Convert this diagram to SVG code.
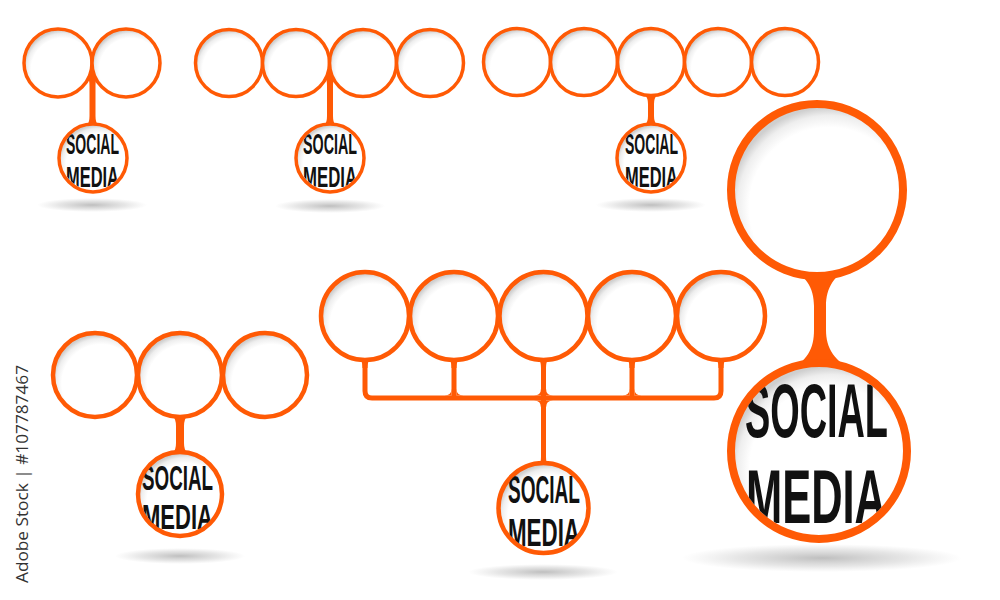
<svg xmlns="http://www.w3.org/2000/svg" width="1000" height="600" viewBox="0 0 1000 600">
<defs>
<radialGradient id="inner" cx="0.57" cy="0.6" r="0.58">
<stop offset="0" stop-color="#fff"/><stop offset="0.8" stop-color="#fff"/><stop offset="0.92" stop-color="#eeeeee"/><stop offset="1" stop-color="#cfcfcf"/>
</radialGradient>
<radialGradient id="shadow">
<stop offset="0" stop-color="#8a8a8a" stop-opacity="0.55"/><stop offset="0.6" stop-color="#9a9a9a" stop-opacity="0.25"/><stop offset="1" stop-color="#aaa" stop-opacity="0"/>
</radialGradient>
<clipPath id="c1"><circle cx="93" cy="158" r="32"/></clipPath>
<clipPath id="c2"><circle cx="330" cy="158" r="32"/></clipPath>
<clipPath id="c3"><circle cx="651" cy="158" r="32"/></clipPath>
<clipPath id="c4"><circle cx="180" cy="494" r="40"/></clipPath>
<clipPath id="c5"><circle cx="543.5" cy="508" r="43"/></clipPath>
<clipPath id="c6"><circle cx="819" cy="451" r="84"/></clipPath>
</defs>
<style>
.ring{fill:url(#inner);stroke:#ff5a05}
.s{stroke-width:3.5}
.m{stroke-width:4.5}
.l{stroke-width:8}
.conn{fill:#ff5a05}
.bar{fill:none;stroke:#ff5a05;stroke-width:5;stroke-linejoin:round}
.sm{font-family:"Liberation Sans","DejaVu Sans Condensed",sans-serif;font-weight:bold;fill:#111}
.sh{fill:url(#shadow)}
.wm{font-family:"Open Sans","DejaVu Sans",sans-serif;fill:#333}
</style>
<rect width="1000" height="600" fill="#fff"/>
<g id="shadows">
<ellipse class="sh" cx="92" cy="205" rx="55" ry="7"/>
<ellipse class="sh" cx="330" cy="206" rx="55" ry="7"/>
<ellipse class="sh" cx="651" cy="205" rx="55" ry="7"/>
<ellipse class="sh" cx="180" cy="556" rx="65" ry="8"/>
<ellipse class="sh" cx="543" cy="572" rx="75" ry="8"/>
<ellipse class="sh" cx="822" cy="558" rx="140" ry="14"/>
</g>
<g id="connectors">
<path class="conn" d="M80.5,72 Q89.5,72 89.5,86 L89.5,116 Q89.5,128 80.5,128 L104.5,128 Q95.5,128 95.5,116 L95.5,86 Q95.5,72 104.5,72 Z"/>
<path class="conn" d="M318,72 Q327,72 327,86 L327,116 Q327,128 318,128 L342,128 Q333,128 333,116 L333,86 Q333,72 342,72 Z"/>
<path class="conn" d="M636,92 Q648,92 648,104 L648,116 Q648,128 636,128 L666,128 Q654,128 654,116 L654,104 Q654,92 666,92 Z"/>
<path class="conn" d="M164,413 Q176,413 176,426 L176,443 Q176,456 164,456 L196,456 Q184,456 184,443 L184,426 Q184,413 196,413 Z"/>
<path class="bar" d="M365,360 V391 Q365,398 372,398 H714 Q721,398 721,391 V360"/>
<path class="bar" d="M454,360 V398 M543.5,360 V466 M632,360 V398"/>
<path class="conn" d="M353.5,356 Q362.5,356 362.5,368 L367.5,368 Q367.5,356 376.5,356 Z M442.5,356 Q451.5,356 451.5,368 L456.5,368 Q456.5,356 465.5,356 Z M532,356 Q541,356 541,368 L546,368 Q546,356 555,356 Z M620.5,356 Q629.5,356 629.5,368 L634.5,368 Q634.5,356 643.5,356 Z M709.5,356 Q718.5,356 718.5,368 L723.5,368 Q723.5,356 732.5,356 Z"/>
<path class="conn" d="M451.5,395.5 L444.5,395.5 Q451.5,395.5 451.5,388.5 Z M456.5,395.5 L463.5,395.5 Q456.5,395.5 456.5,388.5 Z M541,395.5 L534,395.5 Q541,395.5 541,388.5 Z M546,395.5 L553,395.5 Q546,395.5 546,388.5 Z M541,400.5 L534,400.5 Q541,400.5 541,407.5 Z M546,400.5 L553,400.5 Q546,400.5 546,407.5 Z M629.5,395.5 L622.5,395.5 Q629.5,395.5 629.5,388.5 Z M634.5,395.5 L641.5,395.5 Q634.5,395.5 634.5,388.5 Z"/>
<path class="conn" d="M531,469 Q541,469 541,457 L546,457 Q546,469 556,469 Z"/>
<path class="conn" d="M785,266 C806,274 814,288 814,306 L814,330 C814,348 808,362 785,372 L857,372 C834,362 826,348 826,330 L826,306 C826,288 834,274 855,264 Z"/>
</g>
<g id="group1">
<circle class="ring s" cx="58" cy="63" r="34"/>
<circle class="ring s" cx="126" cy="63" r="34"/>
<circle class="ring s" cx="93" cy="158" r="34"/>
<g clip-path="url(#c1)" class="sm" font-size="29.2">
<text x="66" y="154" textLength="53" lengthAdjust="spacingAndGlyphs">SOCIAL</text>
<text x="66" y="187" textLength="53" lengthAdjust="spacingAndGlyphs">MEDIA</text>
</g>
</g>
<g id="group2">
<circle class="ring s" cx="229" cy="63" r="33.5"/>
<circle class="ring s" cx="296" cy="63" r="33.5"/>
<circle class="ring s" cx="363" cy="63" r="33.5"/>
<circle class="ring s" cx="430" cy="63" r="33.5"/>
<circle class="ring s" cx="330" cy="158" r="34"/>
<g clip-path="url(#c2)" class="sm" font-size="29.2">
<text x="303" y="154" textLength="54" lengthAdjust="spacingAndGlyphs">SOCIAL</text>
<text x="303" y="187" textLength="54" lengthAdjust="spacingAndGlyphs">MEDIA</text>
</g>
</g>
<g id="group3">
<circle class="ring s" cx="517" cy="62" r="33.5"/>
<circle class="ring s" cx="584" cy="62" r="33.5"/>
<circle class="ring s" cx="651" cy="62" r="33.5"/>
<circle class="ring s" cx="718" cy="62" r="33.5"/>
<circle class="ring s" cx="785" cy="62" r="33.5"/>
<circle class="ring s" cx="651" cy="158" r="34"/>
<g clip-path="url(#c3)" class="sm" font-size="29.2">
<text x="625" y="154" textLength="53" lengthAdjust="spacingAndGlyphs">SOCIAL</text>
<text x="625" y="187" textLength="53" lengthAdjust="spacingAndGlyphs">MEDIA</text>
</g>
</g>
<g id="group4">
<circle class="ring m" cx="95" cy="375" r="42"/>
<circle class="ring m" cx="180" cy="375" r="42"/>
<circle class="ring m" cx="265" cy="375" r="42"/>
<circle class="ring m" cx="180" cy="494" r="42"/>
<g clip-path="url(#c4)" class="sm" font-size="34.6">
<text x="142" y="490" textLength="71" lengthAdjust="spacingAndGlyphs">SOCIAL</text>
<text x="142" y="529" textLength="71" lengthAdjust="spacingAndGlyphs">MEDIA</text>
</g>
</g>
<g id="group5">
<circle class="ring m" cx="365" cy="316" r="44"/>
<circle class="ring m" cx="454" cy="316" r="44"/>
<circle class="ring m" cx="543.5" cy="316" r="44"/>
<circle class="ring m" cx="632" cy="316" r="44"/>
<circle class="ring m" cx="721" cy="316" r="44"/>
<circle class="ring m" cx="543.5" cy="508" r="45"/>
<g clip-path="url(#c5)" class="sm" font-size="38.2">
<text x="508" y="503" textLength="72" lengthAdjust="spacingAndGlyphs">SOCIAL</text>
<text x="508" y="546" textLength="72" lengthAdjust="spacingAndGlyphs">MEDIA</text>
</g>
</g>
<g id="group6">
<circle class="ring l" cx="817" cy="190" r="86"/>
<circle class="ring l" cx="819" cy="451" r="88"/>
<g clip-path="url(#c6)" class="sm" font-size="76.5">
<text x="745" y="437" textLength="143" lengthAdjust="spacingAndGlyphs">SOCIAL</text>
<text x="746" y="523" textLength="140" lengthAdjust="spacingAndGlyphs">MEDIA</text>
</g>
</g>
<text class="wm" font-size="16" text-anchor="middle" transform="translate(28,474) rotate(-90)" textLength="218" lengthAdjust="spacingAndGlyphs">Adobe Stock | #107787467</text>
</svg>
